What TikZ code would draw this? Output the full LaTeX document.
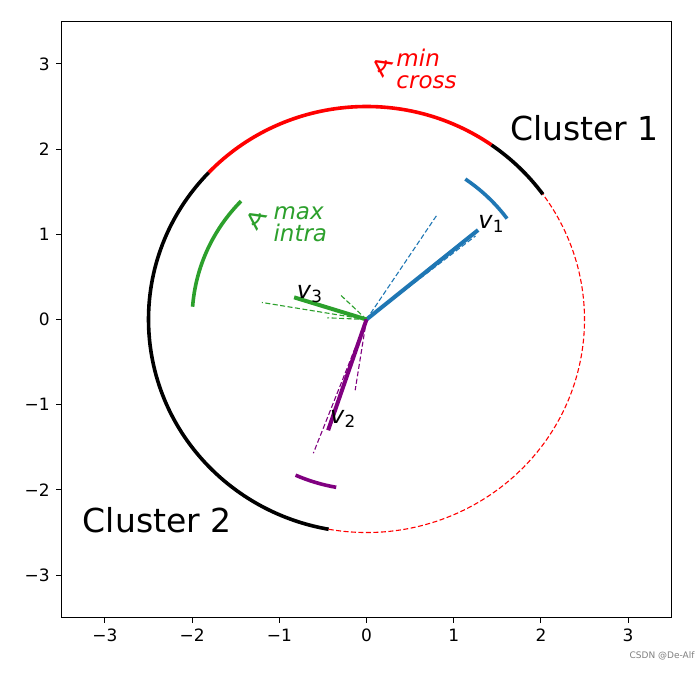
\documentclass[tikz,border=0pt]{standalone}
\usepackage{fontspec}
\setmainfont{DejaVu Sans}
\begin{document}
\begin{tikzpicture}[x=1pt,y=1pt,
  thin dash/.style={line width=1.1pt,dash pattern=on 5pt off 2.5pt},
  thickarc/.style={line width=3.6pt},
  tick/.style={font=\fontsize{17}{19}\selectfont}]
\useasboundingbox (0,0) rectangle (700,674);
\fill[white] (0,0) rectangle (700,674);
\definecolor{mgreen}{RGB}{44,160,44}
\definecolor{mblue}{RGB}{31,119,180}
\definecolor{mpurple}{RGB}{128,0,128}
\begin{scope}[shift={(366.5,354.5)},x=87.2pt,y=85.2pt]
  \coordinate (o) at (0,0);
  \draw[red,thickarc] (136.4:2.5) arc[start angle=136.4,end angle=55,radius=2.5];
  \draw[black,thickarc] (55:2.5) arc[start angle=55,end angle=36,radius=2.5];
  \draw[black,thickarc] (136.4:2.5) arc[start angle=136.4,end angle=260,radius=2.5];
  \draw[red,thin dash] (260:2.5) arc[start angle=260,end angle=396,radius=2.5];
  % blue
  \coordinate (b1) at (0.81,1.23); \coordinate (b2) at (1.25,0.98);
  \coordinate (v1) at (1.28,1.05);
  \draw[mblue,thin dash] (o) -- (b1);
  \draw[mblue,thin dash] (o) -- (b2);
  \draw[mblue,line width=4pt] (o) -- (v1);
  \draw[mblue,thickarc] (36.3:2) arc[start angle=36.3,end angle=55.5,radius=2];
  % green
  \coordinate (g1) at (-1.2,0.2); \coordinate (g2) at (-0.3,0.29); \coordinate (g3) at (-0.45,0.02);
  \coordinate (v3) at (-0.83,0.26);
  \draw[mgreen,thin dash] (o) -- (g1);
  \draw[mgreen,thin dash] (o) -- (g2);
  \draw[mgreen,thin dash] (o) -- (g3);
  \draw[mgreen,line width=4pt] (o) -- (v3);
  \draw[mgreen,thickarc] (175.7:2) arc[start angle=175.7,end angle=136,radius=2];
  % purple
  \coordinate (p1) at (-0.61,-1.57); \coordinate (p2) at (-0.13,-0.83);
  \coordinate (v2) at (-0.44,-1.3);
  \draw[mpurple,thin dash] (o) -- (p1);
  \draw[mpurple,thin dash] (o) -- (p2);
  \draw[mpurple,line width=4pt] (o) -- (v2);
  \draw[mpurple,thickarc] (246:2) arc[start angle=246,end angle=260,radius=2];
  % labels
  \node[font=\fontsize{24}{26}\selectfont] (l1) at (1.43,1.12) {\textit{v}\textsubscript{1}};
  \node[font=\fontsize{24}{26}\selectfont] (l3) at (-0.65,0.3) {\textit{v}\textsubscript{3}};
  \node[font=\fontsize{24}{26}\selectfont] (l2) at (-0.27,-1.17) {\textit{v}\textsubscript{2}};
  \node[font=\fontsize{33}{36}\selectfont] (c1) at (2.5,2.24) {Cluster 1};
  \node[font=\fontsize{33}{36}\selectfont] (c2) at (-2.4,-2.36) {Cluster 2};
  \node[red,font=\fontsize{26}{26}\selectfont,rotate=-35,inner sep=0] (a1) at (0.17,2.97) {∢};
  \node[red,anchor=west,align=left,font=\fontsize{23}{22}\selectfont\itshape,inner sep=1pt] (t1) at (0.33,2.94) {min\\cross};
  \node[mgreen,font=\fontsize{26}{26}\selectfont,rotate=-35,inner sep=0] (a2) at (-1.27,1.18) {∢};
  \node[mgreen,anchor=west,align=left,font=\fontsize{23}{22}\selectfont\itshape,inner sep=1pt] (t2) at (-1.08,1.12) {max\\intra};
  % axes
  \draw[line width=0.9pt] (-3.5,-3.5) rectangle (3.5,3.5);
  \foreach \v in {-3,...,3}{
    \draw[line width=0.9pt] (\v,-3.5) -- ++(0,-5pt);
    \node[tick,anchor=north] at ([yshift=-8pt]\v,-3.5) {\ifnum\v<0 −\the\numexpr-\v\relax\else\v\fi};
    \draw[line width=0.9pt] (-3.5,\v) -- ++(-5pt,0);
    \node[tick,anchor=east] at ([xshift=-8pt]-3.5,\v) {\ifnum\v<0 −\the\numexpr-\v\relax\else\v\fi};
  }
\end{scope}
\node[gray,font=\fontsize{9}{10}\selectfont,anchor=south east] (w) at (698,10) {CSDN @De-Alf};
\end{tikzpicture}
\end{document}
